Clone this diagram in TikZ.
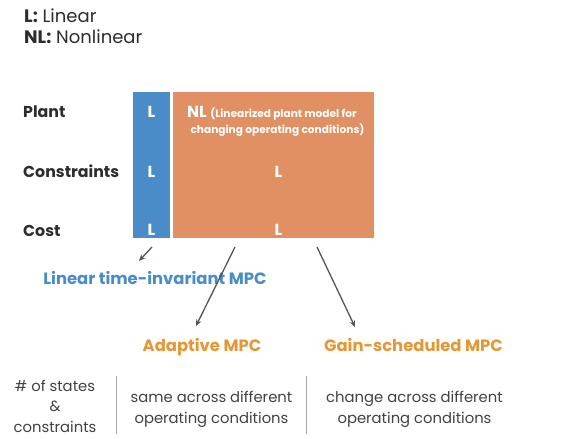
\documentclass[tikz,border=0pt]{standalone}
\usepackage{fontspec}
\setmainfont{Poppins}
\usetikzlibrary{arrows.meta}
\definecolor{ltiblue}{RGB}{74,140,200}
\definecolor{nlorange}{RGB}{224,144,98}
\definecolor{mpcorange}{RGB}{230,150,52}
\definecolor{arrowgray}{RGB}{85,85,85}
\definecolor{textgray}{RGB}{45,45,45}
\tikzset{
  rowlabel/.style={anchor=base west, font=\bfseries\fontsize{15.8}{18}\selectfont, text=textgray, inner sep=0pt},
  cellL/.style={anchor=base, font=\bfseries\fontsize{16}{18}\selectfont, text=white, inner sep=0pt},
  mpclabel/.style={anchor=base, font=\bfseries\fontsize{16.4}{19}\selectfont, inner sep=0pt},
  note/.style={align=center, font=\fontsize{14.8}{20.5}\selectfont, text=textgray!90, inner sep=0pt},
  pointer/.style={->, draw=arrowgray, line width=1.3pt}
}
\begin{document}
\begin{tikzpicture}[x=1pt, y=-1pt, >={Stealth[length=6.5pt,width=5.5pt]}]
\useasboundingbox[fill=white] (0,0) rectangle (574,439);
% legend
\node[anchor=base west, inner sep=0pt, font=\fontsize{18}{20}\selectfont, text=textgray] (legL) at (24,22.5) {\textbf{L:} Linear};
\node[anchor=base west, inner sep=0pt, font=\fontsize{18}{20}\selectfont, text=textgray] (legNL) at (24,43.5) {\textbf{NL:} Nonlinear};
% table of blocks
\fill[ltiblue] (133,92) rectangle (170,238);
\fill[nlorange] (173,92) rectangle (374,238);
\node[rowlabel] (plant) at (23,117.5) {Plant};
\node[rowlabel] (constr) at (23,177.5) {Constraints};
\node[rowlabel] (cost) at (23,236) {Cost};
\node[cellL] (lp) at (151.5,117) {L};
\node[cellL] (lc) at (151.5,177) {L};
\node[cellL] (lk) at (151.5,235) {L};
\node[anchor=base west, inner sep=0pt, text=white, font=\bfseries\fontsize{16}{18}\selectfont] (np) at (187,117) {NL \fontsize{10.6}{12}\selectfont(Linearized plant model for};
\node[anchor=base, inner sep=0pt, text=white, font=\bfseries\fontsize{10.6}{12}\selectfont] (np2) at (277.5,133) {changing operating conditions)};
\node[cellL] (nc) at (278.5,177) {L};
\node[cellL] (nk) at (278.5,235) {L};
% controllers
\node[mpclabel, text=ltiblue] (lti) at (155,284) {Linear time-invariant MPC};
\node[mpclabel, text=mpcorange] (adapt) at (202,351) {Adaptive MPC};
\node[mpclabel, text=mpcorange] (gain) at (413.5,351) {Gain-scheduled MPC};
\coordinate (s1) at (152,247);
\coordinate (e1) at (139,261);
\coordinate (s2) at (235,247);
\coordinate (e2) at (196,326);
\coordinate (s3) at (317,247);
\coordinate (e3) at (355,327);
\draw[pointer] (s1) -- (e1);
\draw[pointer] (s2) -- (e2);
\draw[pointer] (s3) -- (e3);
% comparison
\node[note, anchor=base] (states) at (55,432) {\# of states\\\&\\constraints};
\node[note, anchor=base] (same) at (211.5,423) {same across different\\operating conditions};
\node[note, anchor=base] (change) at (414.5,423) {change across different\\operating conditions};
\draw[gray!70, line width=0.8pt] (116,376) -- (116,434);
\draw[gray!70, line width=0.8pt] (306,376) -- (306,434);
\end{tikzpicture}
\end{document}
